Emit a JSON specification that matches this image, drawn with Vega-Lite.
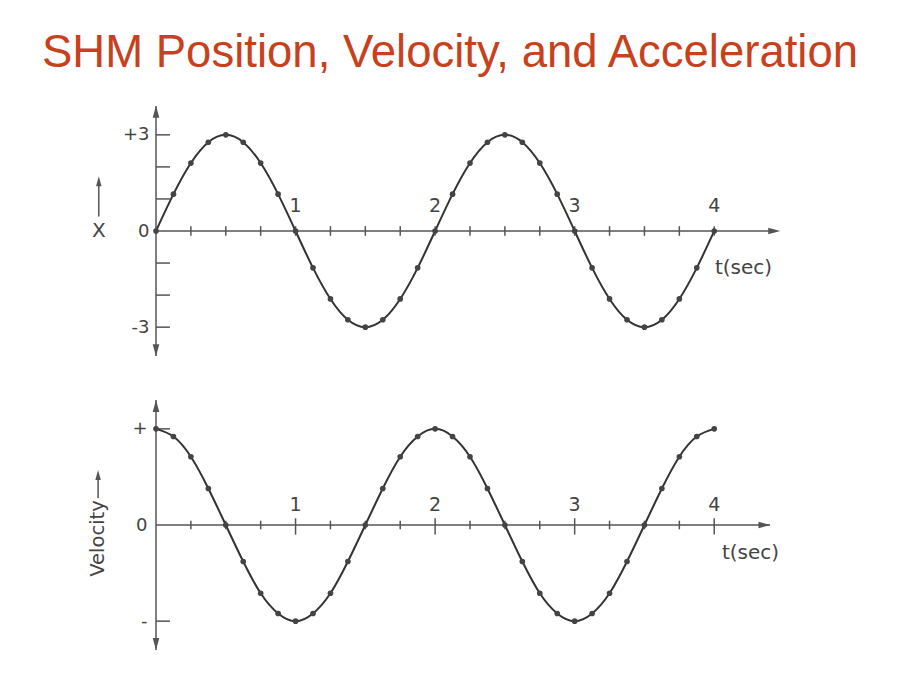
{
  "$schema": "https://vega.github.io/schema/vega-lite/v6.json",
  "description": "SHM position and velocity against time, redrawn from a textbook figure.",
  "background": "white",
  "padding": {"left": 40, "top": 30, "right": 0, "bottom": 0},
  "title": {
    "text": "SHM Position, Velocity, and Acceleration",
    "font": "Liberation Sans",
    "fontSize": 45.5,
    "fontWeight": "normal",
    "color": "#c8401c",
    "anchor": "middle",
    "baseline": "alphabetic",
    "offset": -7,
    "dx": 14
  },
  "config": {
    "view": {"stroke": null},
    "font": "DejaVu Sans",
    "text": {"font": "DejaVu Sans", "fontSize": 18, "color": "#444444"}
  },
  "spacing": 42,
  "datasets": {
    "one": [{}],
    "position": [
      {"t": 0, "x": 0}, {"t": 0.125, "x": 1.15}, {"t": 0.25, "x": 2.12}, {"t": 0.375, "x": 2.77},
      {"t": 0.5, "x": 3}, {"t": 0.625, "x": 2.77}, {"t": 0.75, "x": 2.12}, {"t": 0.875, "x": 1.15},
      {"t": 1, "x": 0}, {"t": 1.125, "x": -1.15}, {"t": 1.25, "x": -2.12}, {"t": 1.375, "x": -2.77},
      {"t": 1.5, "x": -3}, {"t": 1.625, "x": -2.77}, {"t": 1.75, "x": -2.12}, {"t": 1.875, "x": -1.15},
      {"t": 2, "x": 0}, {"t": 2.125, "x": 1.15}, {"t": 2.25, "x": 2.12}, {"t": 2.375, "x": 2.77},
      {"t": 2.5, "x": 3}, {"t": 2.625, "x": 2.77}, {"t": 2.75, "x": 2.12}, {"t": 2.875, "x": 1.15},
      {"t": 3, "x": 0}, {"t": 3.125, "x": -1.15}, {"t": 3.25, "x": -2.12}, {"t": 3.375, "x": -2.77},
      {"t": 3.5, "x": -3}, {"t": 3.625, "x": -2.77}, {"t": 3.75, "x": -2.12}, {"t": 3.875, "x": -1.15},
      {"t": 4, "x": 0}
    ],
    "velocity": [
      {"t": 0, "v": 1}, {"t": 0.125, "v": 0.92}, {"t": 0.25, "v": 0.71}, {"t": 0.375, "v": 0.38},
      {"t": 0.5, "v": 0}, {"t": 0.625, "v": -0.38}, {"t": 0.75, "v": -0.71}, {"t": 0.875, "v": -0.92},
      {"t": 1, "v": -1}, {"t": 1.125, "v": -0.92}, {"t": 1.25, "v": -0.71}, {"t": 1.375, "v": -0.38},
      {"t": 1.5, "v": 0}, {"t": 1.625, "v": 0.38}, {"t": 1.75, "v": 0.71}, {"t": 1.875, "v": 0.92},
      {"t": 2, "v": 1}, {"t": 2.125, "v": 0.92}, {"t": 2.25, "v": 0.71}, {"t": 2.375, "v": 0.38},
      {"t": 2.5, "v": 0}, {"t": 2.625, "v": -0.38}, {"t": 2.75, "v": -0.71}, {"t": 2.875, "v": -0.92},
      {"t": 3, "v": -1}, {"t": 3.125, "v": -0.92}, {"t": 3.25, "v": -0.71}, {"t": 3.375, "v": -0.38},
      {"t": 3.5, "v": 0}, {"t": 3.625, "v": 0.38}, {"t": 3.75, "v": 0.71}, {"t": 3.875, "v": 0.92},
      {"t": 4, "v": 1}
    ],
    "tticks": [
      {"t": 0.25, "label": ""}, {"t": 0.5, "label": ""}, {"t": 0.75, "label": ""}, {"t": 1, "label": "1"},
      {"t": 1.25, "label": ""}, {"t": 1.5, "label": ""}, {"t": 1.75, "label": ""}, {"t": 2, "label": "2"},
      {"t": 2.25, "label": ""}, {"t": 2.5, "label": ""}, {"t": 2.75, "label": ""}, {"t": 3, "label": "3"},
      {"t": 3.25, "label": ""}, {"t": 3.5, "label": ""}, {"t": 3.75, "label": ""}, {"t": 4, "label": "4"}
    ],
    "xticks": [{"x": -3}, {"x": -2}, {"x": -1}, {"x": 1}, {"x": 2}, {"x": 3}],
    "vticks": [{"v": -1}, {"v": 1}]
  },
  "vconcat": [
    {
      "width": 628,
      "height": 250,
      "layer": [
        {
          "data": {"name": "one"},
          "mark": {"type": "rule", "color": "#555555", "strokeWidth": 1.5},
          "encoding": {
            "x": {"datum": 0, "type": "quantitative", "scale": {"domain": [0, 4.5], "nice": false, "zero": false}, "axis": null},
            "x2": {"datum": 4.45},
            "y": {
              "datum": 0, "type": "quantitative",
              "scale": {"domain": [-3.9, 3.9], "nice": false, "zero": false},
              "axis": {
                "title": null, "values": [-3, 0, 3],
                "labelExpr": "datum.value > 0 ? '+3' : datum.value < 0 ? '-3' : '0'",
                "domain": false, "ticks": false, "grid": false,
                "labelFont": "DejaVu Sans", "labelFontSize": 18, "labelColor": "#444444", "labelPadding": 7
              }
            }
          }
        },
        {
          "data": {"name": "one"},
          "mark": {"type": "rule", "color": "#555555", "strokeWidth": 1.5},
          "encoding": {"x": {"datum": 0, "axis": null}, "y": {"datum": -3.9}, "y2": {"datum": 3.9}}
        },
        {
          "data": {"name": "one"},
          "mark": {"type": "point", "shape": "M0,-1L0.55,1L-0.55,1Z", "size": 144, "filled": true, "opacity": 1, "color": "#555555"},
          "encoding": {"x": {"datum": 0, "axis": null}, "y": {"datum": 3.72}}
        },
        {
          "data": {"name": "one"},
          "mark": {"type": "point", "shape": "M0,-1L0.55,1L-0.55,1Z", "size": 144, "filled": true, "opacity": 1, "color": "#555555", "angle": 180},
          "encoding": {"x": {"datum": 0, "axis": null}, "y": {"datum": -3.72}}
        },
        {
          "data": {"name": "one"},
          "mark": {"type": "point", "shape": "M0,-1L0.55,1L-0.55,1Z", "size": 144, "filled": true, "opacity": 1, "color": "#555555", "angle": 90},
          "encoding": {"x": {"datum": 4.43, "axis": null}, "y": {"datum": 0}}
        },
        {
          "data": {"name": "tticks"},
          "mark": {"type": "rule", "color": "#555555", "strokeWidth": 1.5},
          "encoding": {"x": {"field": "t", "type": "quantitative", "axis": null}, "y": {"datum": -0.15}, "y2": {"datum": 0.15}}
        },
        {
          "data": {"name": "xticks"},
          "mark": {"type": "rule", "color": "#555555", "strokeWidth": 1.5},
          "encoding": {"y": {"field": "x", "type": "quantitative"}, "x": {"datum": 0, "axis": null}, "x2": {"datum": 0.1}}
        },
        {
          "data": {"name": "tticks"},
          "transform": [{"filter": "datum.label != ''"}],
          "mark": {"type": "text", "dy": -25, "fontSize": 19},
          "encoding": {"x": {"field": "t", "type": "quantitative", "axis": null}, "y": {"datum": 0}, "text": {"field": "label"}}
        },
        {
          "data": {"name": "one"},
          "mark": {"type": "text", "text": "t(sec)", "fontSize": 20},
          "encoding": {"x": {"datum": 4.21, "axis": null}, "y": {"datum": -1.16}}
        },
        {
          "data": {"name": "one"},
          "mark": {"type": "text", "text": "X", "fontSize": 20},
          "encoding": {"x": {"datum": -0.41, "axis": null}, "y": {"datum": 0}}
        },
        {
          "data": {"name": "one"},
          "mark": {"type": "rule", "color": "#555555", "strokeWidth": 1.5},
          "encoding": {"x": {"datum": -0.41, "axis": null}, "y": {"datum": 0.45}, "y2": {"datum": 1.55}}
        },
        {
          "data": {"name": "one"},
          "mark": {"type": "point", "shape": "M0,-1L0.55,1L-0.55,1Z", "size": 100, "filled": true, "opacity": 1, "color": "#555555"},
          "encoding": {"x": {"datum": -0.41, "axis": null}, "y": {"datum": 1.55}}
        },
        {
          "data": {"name": "position"},
          "mark": {"type": "line", "interpolate": "natural", "color": "#333333", "strokeWidth": 2},
          "encoding": {"x": {"field": "t", "type": "quantitative", "axis": null}, "y": {"field": "x", "type": "quantitative"}}
        },
        {
          "data": {"name": "position"},
          "mark": {"type": "circle", "size": 32, "color": "#444444", "opacity": 1},
          "encoding": {"x": {"field": "t", "type": "quantitative", "axis": null}, "y": {"field": "x", "type": "quantitative"}}
        }
      ]
    },
    {
      "width": 628,
      "height": 250,
      "layer": [
        {
          "data": {"name": "one"},
          "mark": {"type": "rule", "color": "#555555", "strokeWidth": 1.5},
          "encoding": {
            "x": {"datum": 0, "type": "quantitative", "scale": {"domain": [0, 4.5], "nice": false, "zero": false}, "axis": null},
            "x2": {"datum": 4.4},
            "y": {
              "datum": 0, "type": "quantitative",
              "scale": {"domain": [-1.3, 1.3], "nice": false, "zero": false},
              "axis": {
                "title": null, "values": [-1, 0, 1],
                "labelExpr": "datum.value > 0 ? '+' : datum.value < 0 ? '-' : '0'",
                "domain": false, "ticks": false, "grid": false,
                "labelFont": "DejaVu Sans", "labelFontSize": 18, "labelColor": "#444444", "labelPadding": 9
              }
            }
          }
        },
        {
          "data": {"name": "one"},
          "mark": {"type": "rule", "color": "#555555", "strokeWidth": 1.5},
          "encoding": {"x": {"datum": 0, "axis": null}, "y": {"datum": -1.3}, "y2": {"datum": 1.3}}
        },
        {
          "data": {"name": "one"},
          "mark": {"type": "point", "shape": "M0,-1L0.55,1L-0.55,1Z", "size": 144, "filled": true, "opacity": 1, "color": "#555555"},
          "encoding": {"x": {"datum": 0, "axis": null}, "y": {"datum": 1.2375}}
        },
        {
          "data": {"name": "one"},
          "mark": {"type": "point", "shape": "M0,-1L0.55,1L-0.55,1Z", "size": 144, "filled": true, "opacity": 1, "color": "#555555", "angle": 180},
          "encoding": {"x": {"datum": 0, "axis": null}, "y": {"datum": -1.2375}}
        },
        {
          "data": {"name": "one"},
          "mark": {"type": "point", "shape": "M0,-1L0.55,1L-0.55,1Z", "size": 144, "filled": true, "opacity": 1, "color": "#555555", "angle": 90},
          "encoding": {"x": {"datum": 4.36, "axis": null}, "y": {"datum": 0}}
        },
        {
          "data": {"name": "tticks"},
          "transform": [{"filter": "datum.label == ''"}],
          "mark": {"type": "rule", "color": "#555555", "strokeWidth": 1.5},
          "encoding": {"x": {"field": "t", "type": "quantitative", "axis": null}, "y": {"datum": -0.045}, "y2": {"datum": 0.045}}
        },
        {
          "data": {"name": "tticks"},
          "transform": [{"filter": "datum.label != ''"}],
          "mark": {"type": "rule", "color": "#555555", "strokeWidth": 1.5},
          "encoding": {"x": {"field": "t", "type": "quantitative", "axis": null}, "y": {"datum": -0.1}, "y2": {"datum": 0.07}}
        },
        {
          "data": {"name": "vticks"},
          "mark": {"type": "rule", "color": "#555555", "strokeWidth": 1.5},
          "encoding": {"y": {"field": "v", "type": "quantitative"}, "x": {"datum": 0, "axis": null}, "x2": {"datum": 0.1}}
        },
        {
          "data": {"name": "tticks"},
          "transform": [{"filter": "datum.label != ''"}],
          "mark": {"type": "text", "dy": -20, "fontSize": 19},
          "encoding": {"x": {"field": "t", "type": "quantitative", "axis": null}, "y": {"datum": 0}, "text": {"field": "label"}}
        },
        {
          "data": {"name": "one"},
          "mark": {"type": "text", "text": "t(sec)", "fontSize": 20},
          "encoding": {"x": {"datum": 4.26, "axis": null}, "y": {"datum": -0.29}}
        },
        {
          "data": {"name": "one"},
          "mark": {"type": "text", "text": "Velocity", "angle": 270, "fontSize": 19.5},
          "encoding": {"x": {"datum": -0.415, "axis": null}, "y": {"datum": -0.14}}
        },
        {
          "data": {"name": "one"},
          "mark": {"type": "rule", "color": "#555555", "strokeWidth": 1.5},
          "encoding": {"x": {"datum": -0.415, "axis": null}, "y": {"datum": 0.28}, "y2": {"datum": 0.52}}
        },
        {
          "data": {"name": "one"},
          "mark": {"type": "point", "shape": "M0,-1L0.55,1L-0.55,1Z", "size": 100, "filled": true, "opacity": 1, "color": "#555555"},
          "encoding": {"x": {"datum": -0.415, "axis": null}, "y": {"datum": 0.52}}
        },
        {
          "data": {"name": "velocity"},
          "mark": {"type": "line", "interpolate": "natural", "color": "#333333", "strokeWidth": 2},
          "encoding": {"x": {"field": "t", "type": "quantitative", "axis": null}, "y": {"field": "v", "type": "quantitative"}}
        },
        {
          "data": {"name": "velocity"},
          "mark": {"type": "circle", "size": 32, "color": "#444444", "opacity": 1},
          "encoding": {"x": {"field": "t", "type": "quantitative", "axis": null}, "y": {"field": "v", "type": "quantitative"}}
        }
      ]
    }
  ]
}
